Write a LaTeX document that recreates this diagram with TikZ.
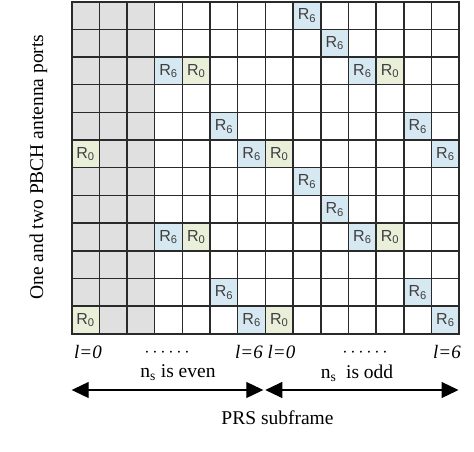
\documentclass[tikz,border=0pt]{standalone}
\usepackage{fontspec}
\setmainfont{Liberation Serif}
\newfontfamily\cellfont{Liberation Sans}
\usetikzlibrary{arrows.meta}
\definecolor{gcol}{HTML}{E0E0E0}
\definecolor{bcol}{HTML}{D6E8F1}
\definecolor{ycol}{HTML}{EAEFDA}
\definecolor{lcol}{HTML}{2A2A2A}
\tikzset{
  cellbase/.style={minimum width=27.68pt, minimum height=27.68pt, inner sep=0pt, text=black!75,
    font=\cellfont\fontsize{16}{16}\selectfont},
  rsix/.style={cellbase, fill=bcol},
  rzero/.style={cellbase, fill=ycol},
  gridline/.style={draw=lcol, line width=1.4pt},
  border/.style={draw=lcol, line width=1.9pt},
  lbl/.style={font=\fontsize{19.5}{20}\selectfont, inner sep=0pt},
  idx/.style={font=\itshape\fontsize{19}{19}\selectfont, inner sep=0pt},
  dotsl/.style={font=\fontsize{16}{16}\selectfont, inner sep=0pt},
  dblarrow/.style={line width=1.1pt, {Triangle[length=17pt,width=16pt]}-{Triangle[length=17pt,width=16pt]}}
}
\begin{document}
\begin{tikzpicture}[x=1pt,y=-1pt]
\useasboundingbox (0,0) rectangle (474,452);
\def\cw{27.68}
\def\gx{71.7}
\def\gy{1.7}
% grey control region
\fill[gcol] (\gx,\gy) rectangle (\gx+3*\cw,\gy+12*\cw);
% R6 cells
\foreach \r/\c in {0/8,1/9,2/3,2/10,4/5,4/12,5/6,5/13,6/8,7/9,8/3,8/10,10/5,10/12,11/6,11/13}
  \node[rsix] (c-\r-\c) at (\gx+\c*\cw+0.5*\cw,\gy+\r*\cw+0.5*\cw) {R\textsubscript{6}};
% R0 cells
\foreach \r/\c in {2/4,2/11,5/0,5/7,8/4,8/11,11/0,11/7}
  \node[rzero] (c-\r-\c) at (\gx+\c*\cw+0.5*\cw,\gy+\r*\cw+0.5*\cw) {R\textsubscript{0}};
% grid
\foreach \i in {1,...,13}
  \draw[gridline] (\gx+\i*\cw,\gy) -- ++(0,12*\cw);
\foreach \j in {1,...,11}
  \draw[gridline] (\gx,\gy+\j*\cw) -- ++(14*\cw,0);
\draw[border] (\gx,\gy) rectangle (\gx+14*\cw,\gy+12*\cw);
% axis label
\node[lbl, rotate=90] (ylab) at (38.5,167) {One and two PBCH antenna ports};
% symbol indices
\node[idx] (l0a) at (88,352) {l=0};
\node[dotsl] (da) at (167,354) {·\,·\,·\,·\,·\,·};
\node[idx] (l6a) at (249,352) {l=6};
\node[idx] (l0b) at (281.5,352) {l=0};
\node[dotsl] (db) at (365,354) {·\,·\,·\,·\,·\,·};
\node[idx] (l6b) at (447,352) {l=6};
% slot labels
\node[lbl] (even) at (178,373) {n\textsubscript{s} is even};
\node[lbl] (odd) at (357,373) {n\textsubscript{s}\ \ is odd};
\coordinate (a1) at (71.7,390);
\coordinate (a2) at (263.3,390);
\coordinate (a3) at (265.3,390);
\coordinate (a4) at (458.5,390);
\draw[dblarrow] (a1) -- (a2);
\draw[dblarrow] (a3) -- (a4);
\node[lbl] (prs) at (277.5,418) {PRS subframe};
\end{tikzpicture}
\end{document}
